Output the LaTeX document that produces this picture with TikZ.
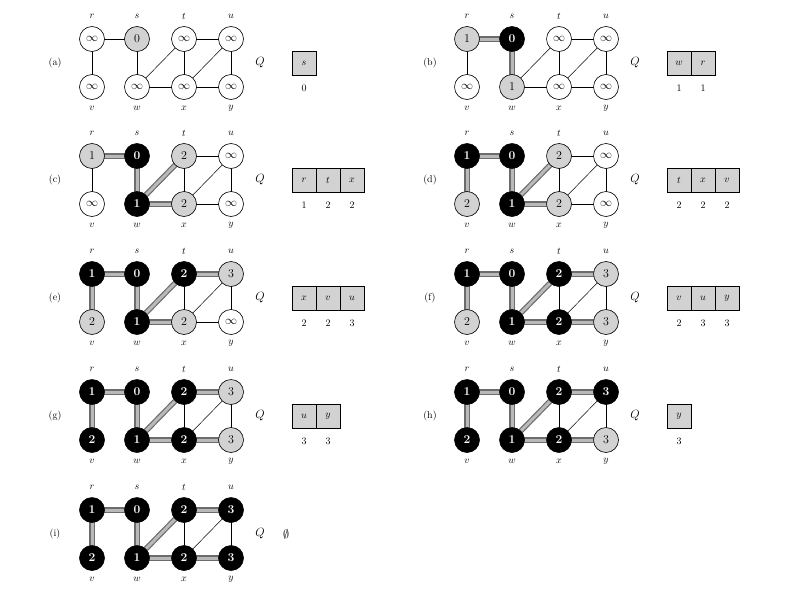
\documentclass[tikz,border=0pt]{standalone}
\begin{document}
\begin{tikzpicture}[x=1pt,y=-1pt,
  vbase/.style={circle,draw,line width=0.6pt,minimum size=25pt,inner sep=0pt,font=\large},
  vw/.style={vbase,fill=white},
  vg/.style={vbase,fill=gray!35},
  vb/.style={vbase,fill=black,text=white,font=\large\bfseries},
  edge/.style={line width=0.5pt},
  tree/.style={line width=1.2pt,draw=gray!85!black,double=gray!55,double distance=3pt},
  lab/.style={font=\normalsize},
  qcell/.style={draw,fill=gray!35,minimum width=24pt,minimum height=24pt,inner sep=0pt,line width=0.6pt}]
\useasboundingbox (0,0) rectangle (792,613);
\newcommand\panel[4]{%
\begin{scope}[shift={(#1,#2)}]
\node[lab] (#3lab) at (-37,24) {(#3)};
\foreach \n/\x/\y/\d in {r/0/0/-23,s/45/0/-23,t/92/0/-23,u/139/0/-23,v/0/48/21,w/45/48/21,x/92/48/21,y/139/48/21}{
  \coordinate (#3\n) at (\x,\y);
  \node[lab] (#3l\n) at (\x,\y+\d) {$\n$};}
\foreach \a/\b in {r/s,r/v,s/w,w/t,w/x,t/x,t/u,x/u,x/y,u/y} \draw[edge] (#3\a) -- (#3\b);
\foreach \a/\b in {#4} \draw[tree] (#3\a) -- (#3\b);
\end{scope}}
\newcommand\verts[2]{\foreach \n/\c/\d in {#2} \node[v\c] (#1n\n) at (#1\n) {\d};}
\newcommand\queue[4]{%
\begin{scope}[shift={(#1,#2)}]
\node[font=\large\itshape] (#3Q) at (168,24) {$Q$};
\foreach \q/\k [count=\i] in {#4}{
  \node[qcell] (#3q\i) at (212+24*\i-24,24) {$\q$};
  \node[lab] (#3k\i) at (212+24*\i-24,49) {\k};}
\end{scope}}
\def\inf{$\infty$}
% (a)
\panel{92}{39}{a}{}
\verts{a}{r/w/\inf,s/g/0,t/w/\inf,u/w/\inf,v/w/\inf,w/w/\inf,x/w/\inf,y/w/\inf}
\queue{92}{39}{a}{s/0}
% (b)
\panel{467}{39}{b}{s/r,s/w}
\verts{b}{r/g/1,s/b/0,t/w/\inf,u/w/\inf,v/w/\inf,w/g/1,x/w/\inf,y/w/\inf}
\queue{467}{39}{b}{w/1,r/1}
% (c)
\panel{92}{156}{c}{s/r,s/w,w/t,w/x}
\verts{c}{r/g/1,s/b/0,t/g/2,u/w/\inf,v/w/\inf,w/b/1,x/g/2,y/w/\inf}
\queue{92}{156}{c}{r/1,t/2,x/2}
% (d)
\panel{467}{156}{d}{s/r,s/w,w/t,w/x,r/v}
\verts{d}{r/b/1,s/b/0,t/g/2,u/w/\inf,v/g/2,w/b/1,x/g/2,y/w/\inf}
\queue{467}{156}{d}{t/2,x/2,v/2}
% (e)
\panel{92}{274}{e}{s/r,s/w,w/t,w/x,r/v,t/u}
\verts{e}{r/b/1,s/b/0,t/b/2,u/g/3,v/g/2,w/b/1,x/g/2,y/w/\inf}
\queue{92}{274}{e}{x/2,v/2,u/3}
% (f)
\panel{467}{274}{f}{s/r,s/w,w/t,w/x,r/v,t/u,x/y}
\verts{f}{r/b/1,s/b/0,t/b/2,u/g/3,v/g/2,w/b/1,x/b/2,y/g/3}
\queue{467}{274}{f}{v/2,u/3,y/3}
% (g)
\panel{92}{392}{g}{s/r,s/w,w/t,w/x,r/v,t/u,x/y}
\verts{g}{r/b/1,s/b/0,t/b/2,u/g/3,v/b/2,w/b/1,x/b/2,y/g/3}
\queue{92}{392}{g}{u/3,y/3}
% (h)
\panel{467}{392}{h}{s/r,s/w,w/t,w/x,r/v,t/u,x/y}
\verts{h}{r/b/1,s/b/0,t/b/2,u/b/3,v/b/2,w/b/1,x/b/2,y/g/3}
\queue{467}{392}{h}{y/3}
% (i)
\panel{92}{510}{i}{s/r,s/w,w/t,w/x,r/v,t/u,x/y}
\verts{i}{r/b/1,s/b/0,t/b/2,u/b/3,v/b/2,w/b/1,x/b/2,y/b/3}
\node[font=\large] (iQ) at (260,534) {$Q$};
\node[font=\large] (iempty) at (286,534) {$\emptyset$};
\end{tikzpicture}
\end{document}
